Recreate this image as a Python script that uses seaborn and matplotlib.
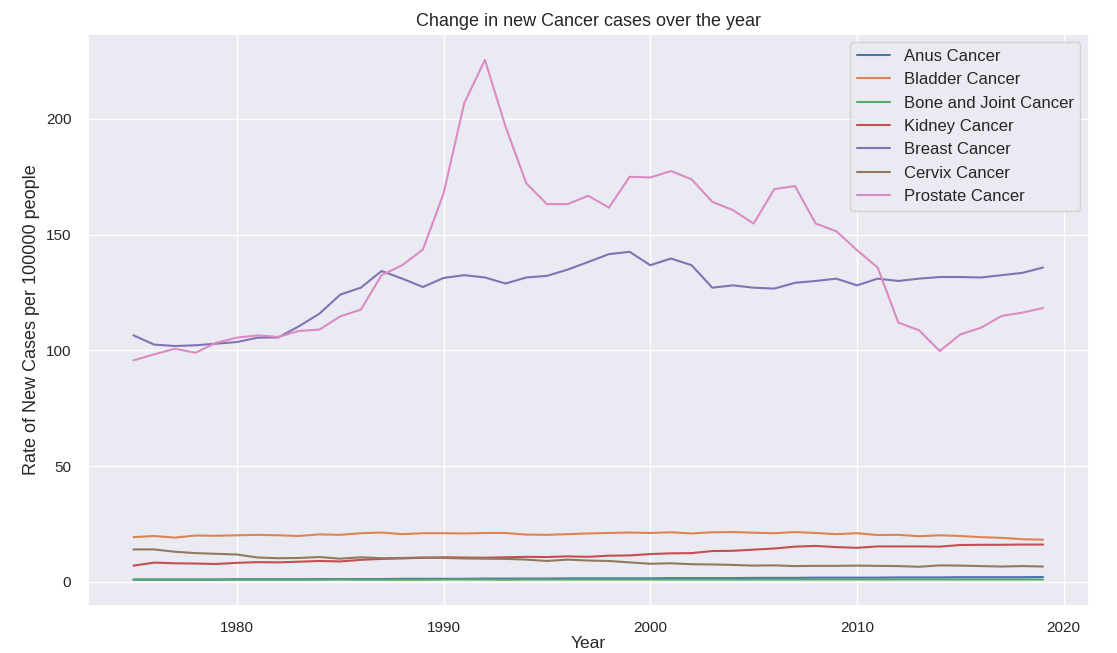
import numpy as np
import pandas as pd
import seaborn as sns
import matplotlib
matplotlib.use("Agg")
import matplotlib.pyplot as plt

years = list(range(1975, 2020))

anus = [1.0, 1.0, 1.0, 1.0, 1.0, 1.1, 1.1, 1.1, 1.1, 1.2, 1.2, 1.2, 1.2, 1.3, 1.3,
        1.3, 1.3, 1.4, 1.4, 1.4, 1.4, 1.5, 1.5, 1.5, 1.5, 1.5, 1.6, 1.6, 1.6, 1.6,
        1.7, 1.7, 1.7, 1.8, 1.8, 1.8, 1.8, 1.9, 1.9, 1.9, 2.0, 2.0, 2.0, 2.0, 2.1]
bladder = [19.3, 19.8, 19.1, 20.0, 19.9, 20.1, 20.3, 20.1, 19.8, 20.5, 20.3, 21.0, 21.3, 20.6, 21.0,
           21.0, 20.9, 21.1, 21.1, 20.4, 20.3, 20.6, 20.9, 21.1, 21.3, 21.1, 21.4, 20.9, 21.4, 21.5,
           21.2, 21.0, 21.5, 21.1, 20.6, 21.0, 20.2, 20.3, 19.7, 20.1, 19.8, 19.3, 19.0, 18.4, 18.2]
bone = [0.9, 0.9, 0.9, 0.9, 0.9, 0.9, 0.9, 0.9, 0.9, 0.9, 1.0, 0.9, 0.9, 0.9, 0.9,
        1.0, 1.0, 1.0, 0.9, 1.0, 1.0, 1.0, 1.0, 1.0, 1.0, 1.0, 1.0, 1.0, 1.0, 1.0,
        1.0, 1.0, 1.0, 1.0, 1.0, 1.0, 1.0, 1.0, 1.0, 1.0, 1.0, 1.0, 1.0, 1.0, 1.0]
kidney = [7.0, 8.3, 8.0, 7.9, 7.7, 8.2, 8.5, 8.4, 8.7, 9.0, 8.8, 9.5, 9.9, 10.1, 10.4,
          10.6, 10.5, 10.4, 10.6, 10.8, 10.7, 11.0, 10.8, 11.3, 11.4, 12.0, 12.3, 12.4, 13.3, 13.4,
          13.9, 14.4, 15.2, 15.5, 15.0, 14.7, 15.3, 15.3, 15.3, 15.2, 15.9, 16.0, 16.0, 16.1, 16.1]
breast = [106.5, 102.5, 101.9, 102.2, 102.9, 103.6, 105.5, 105.6, 110.4, 115.9, 124.1, 127.1, 134.3, 131.0, 127.4,
          131.3, 132.5, 131.5, 128.9, 131.5, 132.2, 134.9, 138.2, 141.6, 142.6, 136.8, 139.7, 136.8, 127.1, 128.1,
          127.1, 126.7, 129.2, 130.0, 131.0, 128.1, 131.0, 130.0, 131.0, 131.7, 131.7, 131.5, 132.5, 133.5, 135.8]
cervix = [14.0, 14.0, 13.0, 12.4, 12.1, 11.8, 10.5, 10.2, 10.3, 10.7, 10.0, 10.6, 10.2, 10.3, 10.5,
          10.3, 10.1, 10.0, 9.9, 9.6, 9.0, 9.6, 9.2, 9.0, 8.4, 7.8, 8.0, 7.6, 7.5, 7.3,
          7.0, 7.1, 6.8, 6.9, 6.9, 7.0, 6.9, 6.8, 6.5, 7.1, 7.0, 6.8, 6.6, 6.8, 6.6]
prostate = [95.7, 98.3, 100.7, 99.0, 103.3, 105.5, 106.5, 105.8, 108.4, 109.0, 114.7, 117.6, 132.5, 136.8, 143.6,
            167.8, 206.8, 225.5, 196.7, 172.2, 163.2, 163.2, 166.8, 161.7, 175.0, 174.7, 177.5, 173.9, 164.2, 160.6,
            154.8, 169.7, 171.0, 154.8, 151.5, 143.3, 135.8, 112.0, 108.7, 99.7, 106.9, 109.8, 114.9, 116.3, 118.3]

series = {
    "Anus Cancer": anus,
    "Bladder Cancer": bladder,
    "Bone and Joint Cancer": bone,
    "Kidney Cancer": kidney,
    "Breast Cancer": breast,
    "Cervix Cancer": cervix,
    "Prostate Cancer": prostate,
}

sns.set_theme()
plt.rcParams['font.family'] = ['Liberation Sans', 'DejaVu Sans']

fig, ax = plt.subplots(figsize=(11.17, 6.53), dpi=100)
fig.subplots_adjust(left=0.0788, right=0.9745, top=0.948, bottom=0.0724)

for name, vals in series.items():
    sns.lineplot(x=years, y=vals, label=name, ax=ax)

ax.set_title("Change in new Cancer cases over the year", fontsize=13)
ax.set_xlabel("Year", fontsize=12.5, labelpad=1)
ax.set_ylabel("Rate of New Cases per 100000 people", fontsize=13)
ax.tick_params(axis="y", pad=6)
ax.tick_params(axis="x", pad=5)
ax.legend(loc="upper right", fontsize=12)

fig.savefig("out.png")
